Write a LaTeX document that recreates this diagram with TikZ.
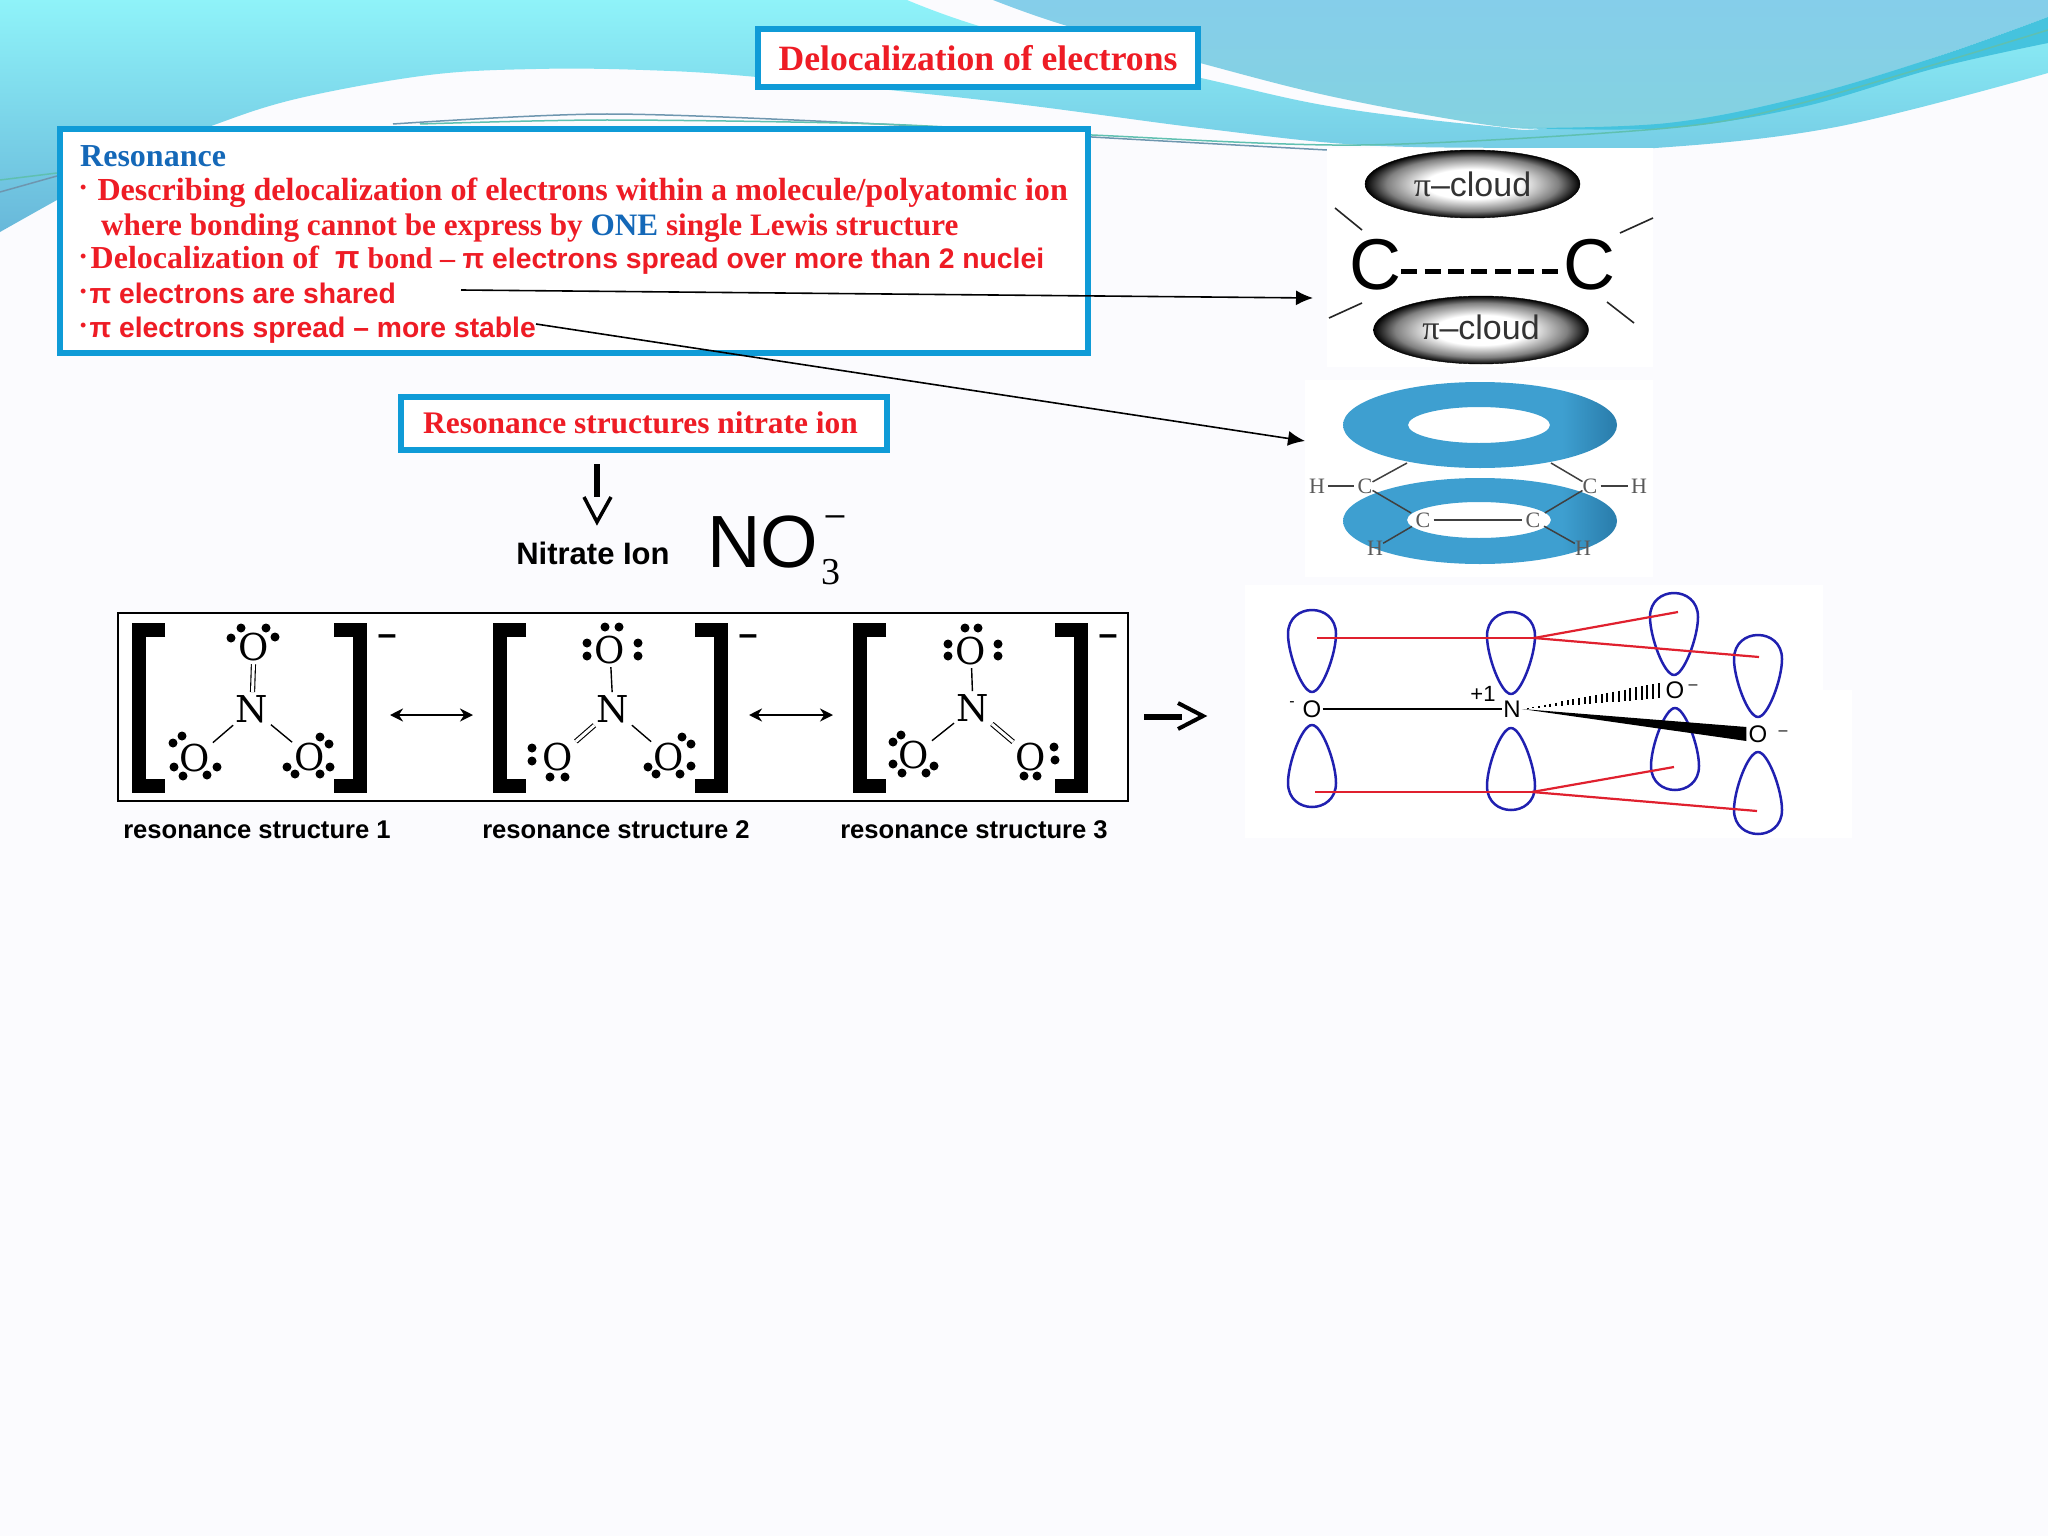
\documentclass[tikz,border=0pt]{standalone}
\usepackage{fontspec}
\setmainfont{Liberation Serif}
\setsansfont{Liberation Sans}
\newfontfamily\atomfont{DejaVu Serif}
\usepackage{xcolor}
\usepackage{tikz}
\usetikzlibrary{arrows.meta}
\usetikzlibrary{shapes.geometric}
\usetikzlibrary{calc}
\definecolor{pagebg}{HTML}{FBFBFE}
\definecolor{boxblue}{HTML}{0F9BD7}
\definecolor{txtred}{HTML}{EE1C25}
\definecolor{txtblue}{HTML}{1468B8}
\definecolor{torusblue}{HTML}{3E9FD0}
\definecolor{torusdark}{HTML}{2B7FAE}
\definecolor{lobeblue}{HTML}{2020B0}
\definecolor{bondred}{HTML}{E0202E}
\definecolor{sweeptop}{HTML}{8FF3F9}
\definecolor{sweeplow}{HTML}{68B8DA}
\definecolor{skytop}{HTML}{85CEEA}
\definecolor{skylow}{HTML}{84D2E0}
\definecolor{sliver}{HTML}{45C3DE}
\definecolor{linegreen}{HTML}{5FC0B0}
\definecolor{linegray}{HTML}{6E96AF}
\newcommand{\smallbul}{{\rmfamily\raisebox{6pt}{\fontsize{18}{20}\selectfont\textbullet}}}
\pgfdeclareradialshading{cloudshade}{\pgfpointorigin}{color(0bp)=(white);color(11bp)=(white);color(20bp)=(gray);color(25bp)=(black);color(50bp)=(black)}
\pgfdeclarehorizontalshading{torusshade}{100bp}{color(0bp)=(torusblue);color(65bp)=(torusblue);color(74bp)=(torusdark);color(100bp)=(torusdark)}
\tikzset{
	bluebox/.style={draw=boxblue,fill=white,line width=6pt,inner sep=0pt},
	titletxt/.style={text=txtred,font=\fontsize{35.6}{38}\selectfont\bfseries},
	bodytxt/.style={anchor=base west,inner sep=0pt,text=txtred,font=\fontsize{32}{36}\selectfont\bfseries},
	bodysans/.style={bodytxt,font=\fontsize{28.3}{32}\selectfont\sffamily\bfseries},
	sanstxt/.style={inner sep=0pt,text=black,font=\fontsize{25.6}{30}\selectfont\sffamily\bfseries},
	cloud/.style={ellipse,draw=black,shade,shading=cloudshade,minimum width=215pt,minimum height=68pt,inner sep=0pt,text=black!80,font=\fontsize{34}{36}\selectfont\sffamily},
	carbon/.style={inner sep=0pt,font=\fontsize{72}{80}\selectfont\sffamily},
	stub/.style={line width=1.6pt,black!85},
	torus/.style={shading=torusshade,even odd rule},
	tatom/.style={inner sep=0pt,text=black!65,font=\fontsize{22}{24}\selectfont},
	tbond/.style={line width=1.5pt,black!75},
	atom/.style={inner sep=1pt,font=\fontsize{37}{39}\selectfont\atomfont},
	bond/.style={line width=1.4pt,shorten >=2pt,shorten <=2pt},
	dbond/.style={bond,double,double distance=3pt,line width=1.1pt},
	chg/.style={inner sep=0pt,font=\fontsize{34}{36}\selectfont\sffamily\bfseries},
	callout/.style={-{Latex[length=17pt,width=15pt]},line width=1.6pt},
	swap/.style={{Stealth[length=13pt,width=13pt]}-{Stealth[length=13pt,width=13pt]},line width=2.2pt},
	orbatom/.style={inner sep=1pt,font=\fontsize{24}{26}\selectfont\sffamily},
	brack/.pic={\draw[line width=14pt] (26,-78) -- (0,-78) -- (0,78) -- (26,78);},
	lobe/.pic={\draw[lobeblue,line width=2.5pt] (0,0) .. controls (-10,0) and (-24,-38) .. (-24,-58) .. controls (-24,-74) and (-12,-82) .. (0,-82) .. controls (12,-82) and (24,-74) .. (24,-58) .. controls (24,-38) and (10,0) .. (0,0);},
}
\begin{document}
\begin{tikzpicture}[x=1pt,y=-1pt]
	\useasboundingbox (0,0) rectangle (2048,1536);
	\fill[pagebg] (0,0) rectangle (2048,1536);
	\shade[top color=sweeptop,bottom color=sweeplow] (0,0) -- (907,0)
		-- plot[smooth,tension=0.6] coordinates {(907,0) (1000,32) (1201,78) (1334,107) (1488,126) (1555,128) (1750,105) (1936,57) (2048,17)}
		-- plot[smooth,tension=0.6] coordinates {(2048,73) (1836,127) (1655,148) (1535,148) (1361,145) (1200,128) (1000,102) (757,77) (643,70) (536,69) (429,75) (300,98) (214,125) (130,160) (57,200) (0,232)}
		-- cycle;
	\shade[top color=skytop,bottom color=skylow] (993,0) -- (2048,0)
		-- plot[smooth,tension=0.6] coordinates {(2048,17) (1936,57) (1802,97) (1668,123) (1555,128) (1488,125) (1334,97) (1200,63) (1064,25) (993,0)}
		-- cycle;
	\fill[sliver] plot[smooth,tension=0.6] coordinates {(1520,128) (1668,123) (1802,97) (1936,57) (2048,17)}
		-- plot[smooth,tension=0.6] coordinates {(2048,43) (1936,68) (1802,107) (1668,128) (1520,128)} -- cycle;
	\draw[line width=1.5pt,linegreen] (0,180) -- (57,173);
	\draw[line width=1.5pt,linegray] (0,192) -- (57,176);
	\draw[line width=1.5pt,linegray] plot[smooth] coordinates {(393,124) (607,114) (879,124) (1092,137) (1327,150)};
	\draw[line width=1.5pt,linegreen] plot[smooth] coordinates {(420,124) (607,120) (879,124) (1092,135) (1361,145) (1668,128) (1802,103) (2048,30)};
	\fill[white] (1327,148) rectangle (1653,367);
	\fill[white] (1305,380) rectangle (1653,577);
	\fill[white] (1245,585) rectangle (1823,690);
	\fill[white] (1245,690) rectangle (1852,838);
	\node (title) [bluebox,titletxt,minimum width=440pt,minimum height=58pt] at (978,58.5) {\raisebox{-2.5pt}{Delocalization of electrons}};
	\node (resbox) [bluebox,minimum width=1028pt,minimum height=223pt] at (574,241) {};
	\node (restitle) [bluebox,titletxt,font=\fontsize{31.4}{34}\selectfont\bfseries,minimum width=486pt,minimum height=53pt] at (643.5,423) {\hspace{-6pt}\raisebox{-2.5pt}{Resonance structures nitrate ion}};
	\node (l1) [bodytxt,text=txtblue] at (80,167) {Resonance};
	\node (l2) [bodytxt,font=\fontsize{32.1}{36}\selectfont\bfseries] at (80,200) {\smallbul\hspace{11pt}Describing delocalization of electrons within a molecule/polyatomic ion};
	\node (l3) [bodytxt,font=\fontsize{31.2}{36}\selectfont\bfseries] at (101,235) {where bonding cannot be express by \textcolor{txtblue}{ONE} single Lewis structure};
	\node (l4) [bodytxt] at (80,268) {\smallbul\hspace{4.2pt}Delocalization of\ \ {\sffamily π} {\fontsize{30}{36}\selectfont bond – }{\sffamily\fontsize{28.3}{32}\selectfont π electrons spread over more than 2 nuclei}};
	\node (l5) [bodysans] at (80,303) {\smallbul\hspace{3pt}π electrons are shared};
	\node (l6) [bodysans] at (80,337) {\smallbul\hspace{3pt}π electrons spread – more stable};
	\node (cl1) [cloud] at (1472.5,184) {\raisebox{-2pt}{{\rmfamily π}–cloud}\hspace{6pt}};
	\node (cl2) [cloud] at (1481,330) {\raisebox{5pt}{{\rmfamily π}–cloud}\hspace{6pt}};
	\node (c1) [carbon] at (1375,265) {C};
	\node (c2) [carbon] at (1589,265) {C};
	\draw[line width=5pt,dash pattern=on 16pt off 7.4pt] ([yshift=-6pt]c1.east) -- ([yshift=-6pt]c2.west);
	\draw[stub] (1335,208) -- (1362,230);
	\draw[stub] (1620,233) -- (1653,218);
	\draw[stub] (1329,318) -- (1362,303);
	\draw[stub] (1607,302) -- (1634,323);
	\shade[torus] (1480,425) ellipse (137 and 43) (1479,425) ellipse (71 and 18);
	\shade[torus] (1480,521) ellipse (137 and 43) (1479,520) ellipse (72 and 18);
	\node (h1) [tatom] at (1317,486) {H};
	\node (c3) [tatom] at (1365,486) {C};
	\node (c4) [tatom] at (1590,486) {C};
	\node (h2) [tatom] at (1639,486) {H};
	\node (c5) [tatom] at (1423,520) {C};
	\node (c6) [tatom] at (1533,520) {C};
	\node (h3) [tatom] at (1375,548) {H};
	\node (h4) [tatom] at (1583,548) {H};
	\draw[tbond,shorten <=3pt,shorten >=3pt] (h1) -- (c3);
	\draw[tbond,shorten <=3pt,shorten >=3pt] (c4) -- (h2);
	\draw[tbond,shorten <=3pt,shorten >=3pt] (c5) -- (c6);
	\draw[tbond,shorten >=5pt] (c3) -- (c5);
	\draw[tbond,shorten >=5pt] (c4) -- (c6);
	\draw[tbond,shorten <=4pt] (c5) -- (h3);
	\draw[tbond,shorten <=4pt] (c6) -- (h4);
	\draw[tbond] (c3) -- (1407,463);
	\draw[tbond] (c4) -- (1551,463);
	\coordinate (a1) at (461,290);
	\coordinate (a2) at (1313,298);
	\coordinate (a3) at (536,324);
	\coordinate (a4) at (1305,441);
	\draw[callout] (a1) -- (a2);
	\draw[callout] (a3) -- (a4);
	\coordinate (d1) at (597,464);
	\coordinate (d2) at (597,497);
	\coordinate (d3) at (597,522);
	\draw[line width=6pt] (d1) -- (d2);
	\draw[line width=3.5pt] (584,497) -- (d3) -- (611,497);
	\node (ion) [sanstxt,font=\fontsize{31}{34}\selectfont\sffamily\bfseries] at (593,553) {Nitrate Ion};
	\node (no) [inner sep=0pt,anchor=base west,font=\fontsize{74}{80}\selectfont\sffamily] at (707,567) {NO};
	\node (three) [inner sep=0pt,font=\fontsize{38}{40}\selectfont] at (831,572) {3};
	\node (minus) [inner sep=0pt,font=\fontsize{34}{36}\selectfont\sffamily] at (835,521) {–};
	\node (frame) [draw=black,line width=2pt,fill=white,minimum width=1010pt,minimum height=188pt] at (623,707) {};
	\foreach \x in {139,500,860} \pic at (\x,708) {brack};
	\foreach \x in {360,721,1081} \pic[xscale=-1] at (\x,708) {brack};
	\node (q1) [chg] at (387,640) {–};
	\node (q2) [chg] at (748,640) {–};
	\node (q3) [chg] at (1108,640) {–};
	\node (n1) [atom] at (252,709) {N};
	\node (o1) [atom] at (254,647) {O};
	\node (o2) [atom] at (195,758) {O};
	\node (o3) [atom] at (310,757) {O};
	\draw[dbond] (n1) -- (o1);
	\draw[bond] (n1) -- (o2);
	\draw[bond] (n1) -- (o3);
	\foreach \p in {(241,628),(266,628),(231,638),(275,637),(182,736),(173,743),(174,767),(183,776),(207,775),(217,767),(320,737),(329,744),(330,767),(320,774),(295,774),(287,767)} \fill \p circle (4.5);
	\node (n2) [atom] at (613,709) {N};
	\node (o4) [atom] at (610,650) {O};
	\node (o5) [atom] at (558,757) {O};
	\node (o6) [atom] at (669,757) {O};
	\draw[bond] (n2) -- (o4);
	\draw[dbond] (n2) -- (o5);
	\draw[bond] (n2) -- (o6);
	\foreach \p in {(605,627),(619,627),(587,643),(587,656),(638,643),(638,656),(532,748),(532,761),(550,777),(565,777),(682,737),(691,744),(691,766),(680,774),(656,774),(648,767)} \fill \p circle (4.5);
	\node (n3) [atom] at (973,708) {N};
	\node (o7) [atom] at (971,651) {O};
	\node (o8) [atom] at (914,755) {O};
	\node (o9) [atom] at (1031,757) {O};
	\draw[bond] (n3) -- (o7);
	\draw[bond] (n3) -- (o8);
	\draw[dbond] (n3) -- (o9);
	\foreach \p in {(965,628),(978,628),(948,644),(948,656),(998,644),(998,656),(901,735),(893,742),(893,764),(902,773),(926,773),(934,766),(1054,747),(1055,760),(1024,776),(1037,776)} \fill \p circle (4.5);
	\coordinate (s1) at (390,715);
	\coordinate (s2) at (473,715);
	\coordinate (s3) at (749,715);
	\coordinate (s4) at (833,715);
	\draw[swap] (s1) -- (s2);
	\draw[swap] (s3) -- (s4);
	\node (r1) [sanstxt] at (257,830) {resonance structure 1};
	\node (r2) [sanstxt] at (616,830) {resonance structure 2};
	\node (r3) [sanstxt] at (974,830) {resonance structure 3};
	\coordinate (g1) at (1144,717);
	\coordinate (g2) at (1182,717);
	\draw[line width=5.5pt] (g1) -- (g2);
	\draw[line width=4pt] (1178,703) -- (1203,716) -- (1178,729);
	\foreach \x/\y in {1312/692,1511/694,1674/675,1758/717} \pic at (\x,\y) {lobe};
	\foreach \x/\y in {1312/725,1511/728,1675/708,1758/752} \pic[yscale=-1] at (\x,\y) {lobe};
	\coordinate (r4) at (1534,638);
	\coordinate (r5) at (1532,792);
	\draw[bondred,line width=2.2pt] (1317,638) -- (r4);
	\draw[bondred,line width=2.2pt] (r4) -- (1678,612);
	\draw[bondred,line width=2.2pt] (r4) -- (1759,657);
	\draw[bondred,line width=2.2pt] (1315,792) -- (r5);
	\draw[bondred,line width=2.2pt] (r5) -- (1674,767);
	\draw[bondred,line width=2.2pt] (r5) -- (1757,811);
	\node (oa) [orbatom] at (1312,709) {O};
	\node (na) [orbatom] at (1512,709) {N};
	\node (ob) [orbatom] at (1675,690) {O};
	\node (oc) [orbatom] at (1758,734) {O};
	\node (qn) [orbatom,font=\fontsize{22}{24}\selectfont\sffamily] at (1483,694) {+1};
	\node (qa) [orbatom,font=\fontsize{16}{18}\selectfont\sffamily] at (1292,704) {-};
	\node (qb) [orbatom,font=\fontsize{16}{18}\selectfont\sffamily] at (1693,687) {–};
	\node (qc) [orbatom,font=\fontsize{16}{18}\selectfont\sffamily] at (1783,733) {–};
	\draw[line width=2pt] (oa) -- (na);
	\foreach \t in {0.04,0.08,...,1.0} \draw[line width=2pt] ($(na.east)!\t!(ob.west)+(0,-8*\t)$) -- ($(na.east)!\t!(ob.west)+(0,8*\t)$);
	\fill (na.east) -- ($(oc.west)+(-1,-7)$) -- ($(oc.west)+(-1,7)$) -- cycle;
\end{tikzpicture}
\end{document}
